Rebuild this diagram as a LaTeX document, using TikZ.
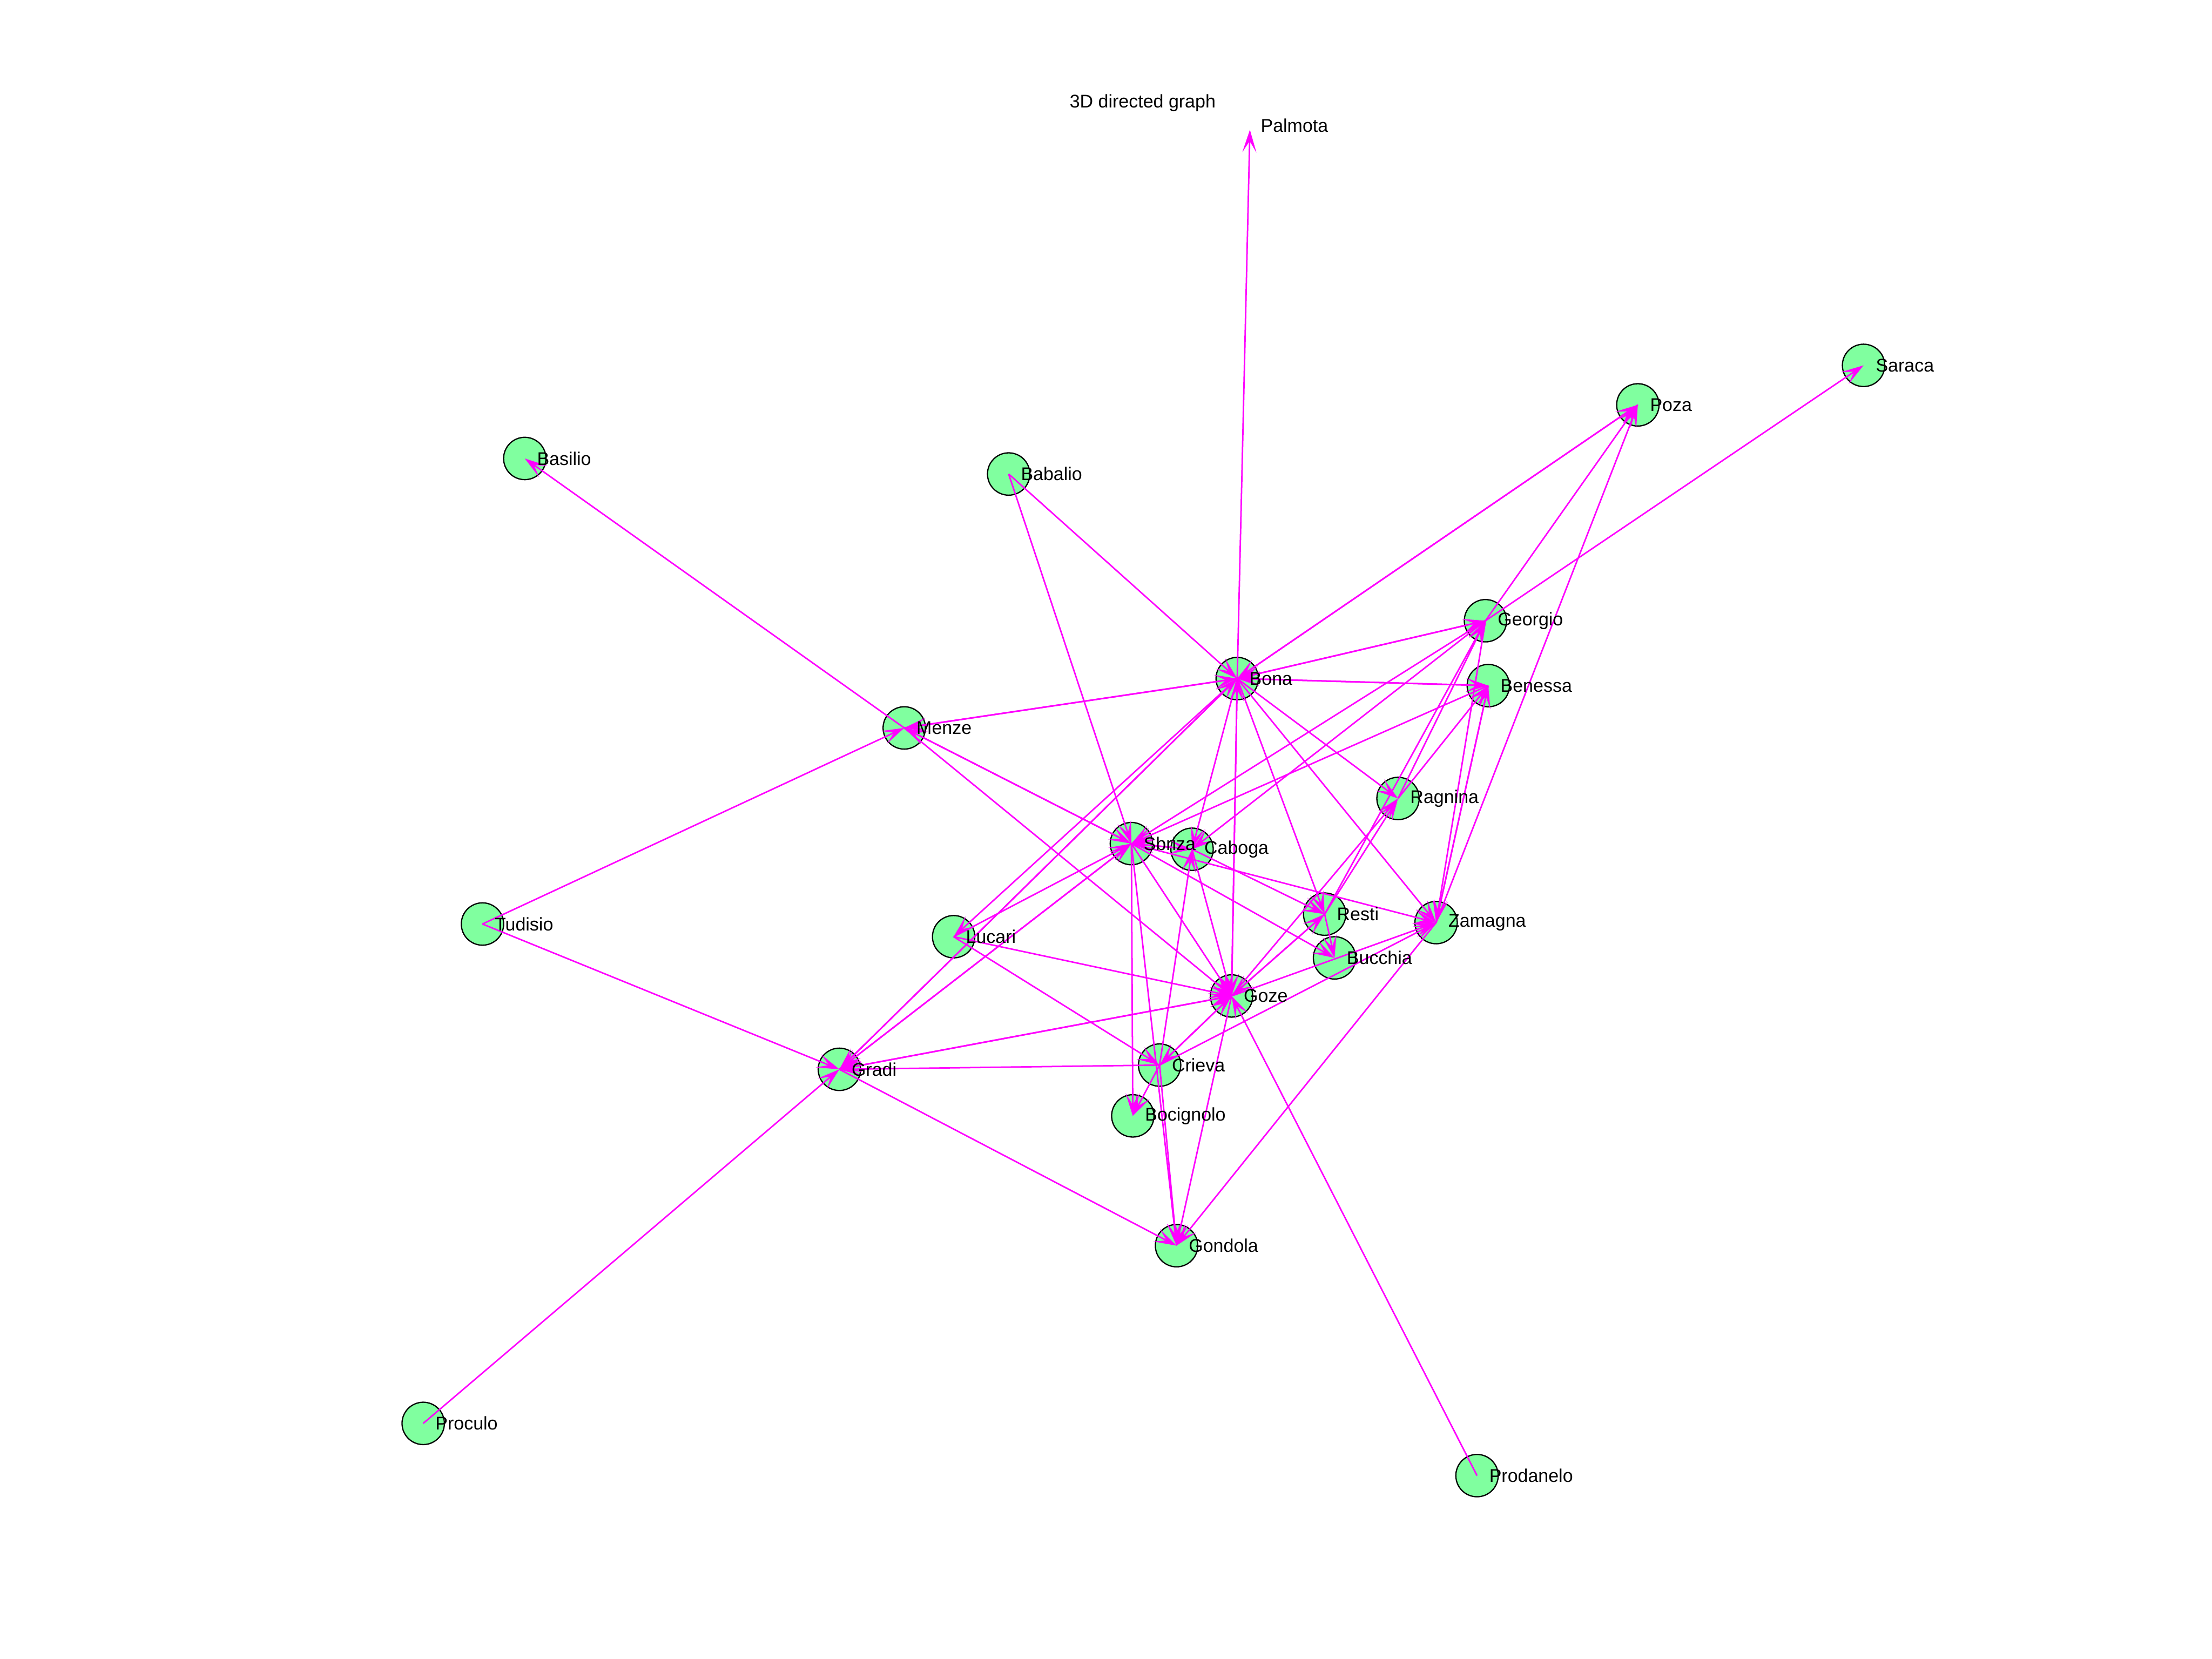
\documentclass[tikz,border=0pt]{standalone}
\usepackage{fontspec}
\setmainfont{Liberation Sans}
\usetikzlibrary{arrows.meta}
\definecolor{nodegreen}{HTML}{80FF9F}
\definecolor{edgemag}{RGB}{255,0,255}
\begin{document}
\begin{tikzpicture}[x=0.01cm,y=-0.01cm,
  v/.style={circle,draw=black,line width=0.25pt,fill=nodegreen,minimum size=0.3cm,inner sep=0pt},
  e/.style={draw=edgemag,line width=0.3pt,-{Stealth[length=0.16cm,width=0.1cm,inset=0.08cm]}},
  lab/.style={font=\fontsize{3.7}{4}\selectfont,anchor=west,inner sep=0pt}]
\useasboundingbox (0,0) rectangle (1568,1176);
\foreach \n/\x/\y in {Saraca/1321/259,Poza/1161/287,Basilio/372/325,Babalio/715/336,Georgio/1053/440,Bona/877/481,Benessa/1055/486,Menze/641/516,Ragnina/991/566,Sbriza/802/598,Caboga/845/602,Tudisio/342/655,Zamagna/1018/654,Resti/939/648,Lucari/676/664,Bucchia/946/679,Goze/873/706,Gradi/595/758,Crieva/822/755,Bocignolo/803/791,Gondola/834/883,Proculo/300/1009,Prodanelo/1047/1046}
  {\node[v] (\n) at (\x,\y) {};}
\coordinate (Palmota) at (886,92);
\node[font=\fontsize{3.7}{4}\selectfont,inner sep=0pt] (title) at (810,73) {3D directed graph};
\foreach \a/\b in {Babalio/Bona,Babalio/Sbriza,Bona/Palmota,Bona/Poza,Poza/Bona,Bona/Georgio,Georgio/Bona,Bona/Benessa,Benessa/Bona,Menze/Bona,Bona/Menze,Menze/Sbriza,Sbriza/Menze,Menze/Basilio,Menze/Goze,Tudisio/Menze,Tudisio/Gradi,Proculo/Gradi,Bona/Lucari,Bona/Gradi,Gradi/Bona,Sbriza/Gradi,Gradi/Sbriza,Lucari/Sbriza,Bona/Caboga,Bona/Goze,Goze/Bona,Bona/Resti,Bona/Ragnina,Bona/Zamagna,Georgio/Sbriza,Benessa/Sbriza,Georgio/Caboga,Ragnina/Georgio,Resti/Georgio,Resti/Ragnina,Georgio/Zamagna,Benessa/Zamagna,Zamagna/Benessa,Ragnina/Benessa,Zamagna/Poza,Georgio/Poza,Georgio/Saraca,Sbriza/Caboga,Sbriza/Zamagna,Sbriza/Bucchia,Sbriza/Goze,Sbriza/Bocignolo,Sbriza/Gondola,Caboga/Resti,Caboga/Goze,Caboga/Sbriza,Lucari/Goze,Lucari/Crieva,Goze/Gradi,Gradi/Goze,Crieva/Gradi,Goze/Resti,Resti/Goze,Goze/Ragnina,Goze/Zamagna,Goze/Crieva,Crieva/Goze,Goze/Gondola,Prodanelo/Goze,Crieva/Gondola,Crieva/Zamagna,Crieva/Bocignolo,Crieva/Caboga,Gradi/Gondola,Zamagna/Gondola,Resti/Bucchia}
  {\path[e] (\a.center) -- (\b.center);}
\foreach \n in {Saraca,Poza,Basilio,Babalio,Georgio,Bona,Benessa,Menze,Ragnina,Sbriza,Caboga,Tudisio,Zamagna,Resti,Lucari,Bucchia,Goze,Gradi,Crieva,Bocignolo,Gondola,Proculo,Prodanelo}
  {\node[lab] at ([xshift=0.08cm]\n.center) {\n};}
\node[lab] at ([xshift=0.07cm,yshift=0.03cm]Palmota) {Palmota};
\end{tikzpicture}
\end{document}
